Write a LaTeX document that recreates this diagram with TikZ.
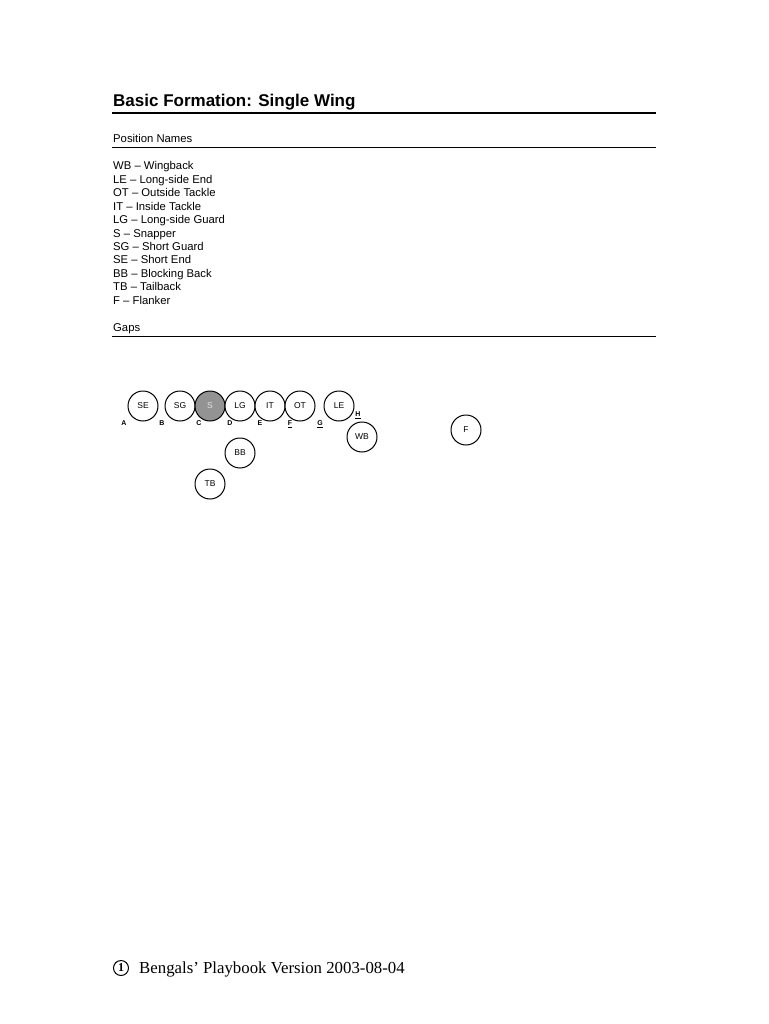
\documentclass[tikz,border=0pt]{standalone}
\usepackage{fontspec}
\setmainfont{Liberation Sans}
\newfontfamily\piedfont{Liberation Serif}
\usetikzlibrary{calc}
\tikzstyle{epais}           =[line width=1.5pt, line cap=butt]
\tikzstyle{fin}             =[line width=0.7pt, line cap=butt]
\tikzstyle{texte}           =[anchor=base west, inner sep=0pt]
\tikzstyle{joueur}          =[circle, draw, line width=1pt, minimum size=30pt, inner sep=0pt, fill=white, font=\fontsize{8.5}{9}\selectfont]
\tikzstyle{trou}            =[inner sep=0pt, font=\fontsize{7}{8}\selectfont\bfseries]

\begin{document}
\begin{tikzpicture}[x=1pt,y=-1pt]
\useasboundingbox (0,0) rectangle (768,1024);

%%%%%%%%%%%%%%%%%%%%%%%%
%Titre et rubriques
%%%%%%%%%%%%%%%%%%%%%%%%

\def \gauche {113}; %abscisse du début des textes
\def \droite {656}; %abscisse de la fin des filets

\node[texte,font=\fontsize{17}{19}\selectfont\bfseries] (titre) at (\gauche,107) {Basic Formation: Single Wing};
\draw [epais](112,113)--(\droite,113);

\node[texte,font=\fontsize{11.3}{13}\selectfont] (noms) at (\gauche,143) {Position Names};
\draw [fin](112,147)--(\droite,147);

%liste des postes
\foreach \txt [count=\i from 0] in {WB – Wingback,LE – Long-side End,OT – Outside Tackle,IT – Inside Tackle,LG – Long-side Guard,S – Snapper,SG – Short Guard,SE – Short End,BB – Blocking Back,TB – Tailback,F – Flanker}
    {\node[texte,font=\fontsize{11.3}{13}\selectfont] (poste\i) at (\gauche,{170+13.4*\i}) {\txt};}

\node[texte,font=\fontsize{11.3}{13}\selectfont] (gaps) at (\gauche,331) {Gaps};
\draw [fin](112,336)--(\droite,336);

%%%%%%%%%%%%%%%%%%%%%%%%
%Formation
%%%%%%%%%%%%%%%%%%%%%%%%

%ligne d'attaque
\node[joueur] (SE) at (143,406) {SE};
\node[joueur] (SG) at (180,406) {SG};
\node[joueur,fill=gray!85,text=gray!20] (S) at (210,406) {S};
\node[joueur] (LG) at (240,406) {LG};
\node[joueur] (IT) at (270,406) {IT};
\node[joueur] (OT) at (300,406) {OT};
\node[joueur] (LE) at (339,406) {LE};

%arrières
\node[joueur] (WB) at (362,437) {WB};
\node[joueur] (BB) at (240,453) {BB};
\node[joueur] (TB) at (210,484) {TB};
\node[joueur] (F) at (466,430) {F};

%lettres des trous
\foreach \lettre/\x in {A/124,B/162,C/199,D/230,E/260}
    {\node[trou] (trou\lettre) at (\x,423) {\lettre};}
\foreach \lettre/\x/\y in {F/290/424,G/320/424,H/358/415}
    {\node[trou] (trou\lettre) at (\x,\y) {\underline{\lettre}};}

%%%%%%%%%%%%%%%%%%%%%%%%
%Pied de page
%%%%%%%%%%%%%%%%%%%%%%%%

\node[circle,draw,line width=1pt,minimum size=15pt,inner sep=0pt,font=\piedfont\fontsize{12}{13}\selectfont\bfseries] (numero) at (121,968) {1};
\node[texte,font=\piedfont\fontsize{16.8}{18}\selectfont] (pied) at (139,973.5) {Bengals’ Playbook Version 2003-08-04};

\end{tikzpicture}
\end{document}
